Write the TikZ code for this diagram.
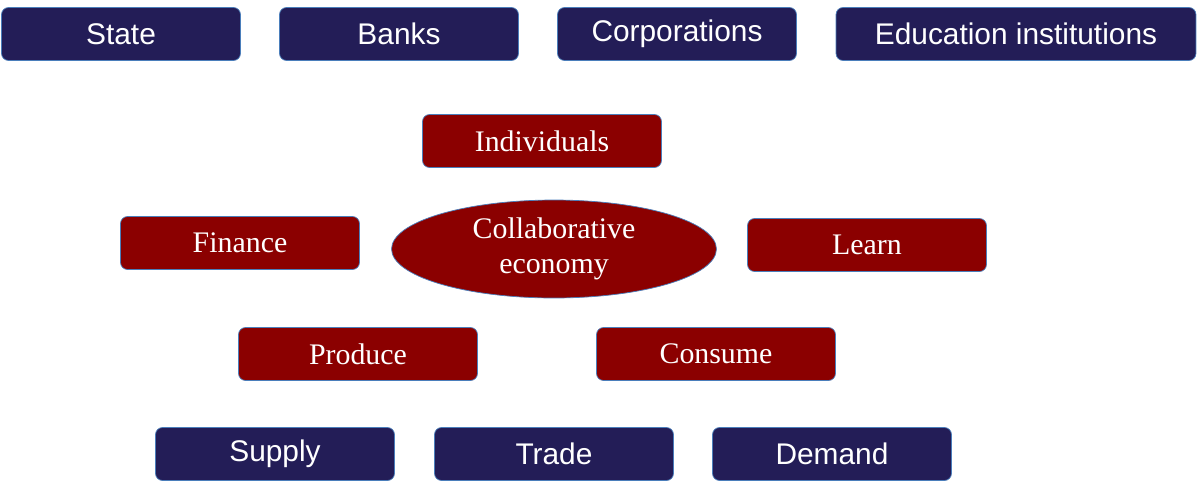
\documentclass[tikz,border=0pt]{standalone}
\usepackage{fontspec}
\setmainfont{Liberation Serif}
\newfontfamily\boxsans{Liberation Sans}
\usetikzlibrary{shapes.geometric}
\definecolor{navy}{HTML}{231D57}
\definecolor{wine}{HTML}{8B0000}
\definecolor{rim}{HTML}{4A7EBB}
\begin{document}
\begin{tikzpicture}[x=0.02cm,y=-0.02cm]
\tikzstyle{actor} = [draw=rim, fill=navy, text=white, rounded corners=4pt, minimum width=4.78cm, minimum height=1.06cm, font=\boxsans\fontsize{17}{20}\selectfont, inner sep=0pt];
\tikzstyle{act} = [draw=rim, fill=wine, text=white, rounded corners=4pt, minimum width=4.78cm, minimum height=1.06cm, font=\fontsize{17}{20}\selectfont, inner sep=0pt];

\useasboundingbox (0,0) rectangle (1200,498);

% actors
\node[actor] (state) at (121,34) {State};
\node[actor] (banks) at (399,34) {Banks};
\node[actor] (corp) at (677,34) {Corporations};
\node[actor, minimum width=7.2cm] (edu) at (1016,34) {Education institutions};

% activities
\node[act] (indiv) at (542,141) {Individuals};
\node[act] (finance) at (240,243) {Finance};
\node[ellipse, draw=rim, fill=wine, text=white, minimum width=6.5cm, minimum height=1.96cm, inner sep=0pt, align=center, font=\fontsize{17}{20}\selectfont] (collab) at (554,249) {Collaborative\\economy};
\node[act] (learn) at (867,245) {Learn};
\node[act] (produce) at (358,354) {Produce};
\node[act] (consume) at (716,354) {Consume};

% market
\node[actor] (supply) at (275,454) {Supply};
\node[actor] (trade) at (554,454) {Trade};
\node[actor] (demand) at (832,454) {Demand};
\end{tikzpicture}
\end{document}
